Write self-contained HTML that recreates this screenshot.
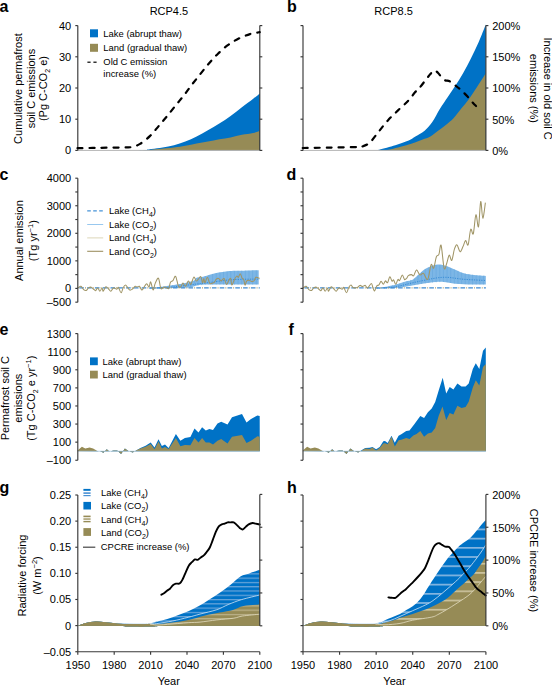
<!DOCTYPE html>
<html><head><meta charset="utf-8"><style>
html,body{margin:0;padding:0;background:#fff;}
body{width:552px;height:685px;overflow:hidden;}
svg{display:block;}
</style></head><body>
<svg width="552" height="685" viewBox="0 0 552 685" font-family='"Liberation Sans", sans-serif' fill="#000">
<rect width="552" height="685" fill="#fff"/>
<text x="-0.6" y="11.6" font-size="16" text-anchor="start" font-weight="bold" >a</text>
<text x="287" y="11.6" font-size="16" text-anchor="start" font-weight="bold" >b</text>
<text x="-0.4" y="179.6" font-size="16" text-anchor="start" font-weight="bold" >c</text>
<text x="286.6" y="179.6" font-size="16" text-anchor="start" font-weight="bold" >d</text>
<text x="-0.6" y="334.5" font-size="16" text-anchor="start" font-weight="bold" >e</text>
<text x="288.4" y="334.5" font-size="16" text-anchor="start" font-weight="bold" >f</text>
<text x="-0.5" y="492.9" font-size="16" text-anchor="start" font-weight="bold" >g</text>
<text x="287" y="493.4" font-size="16" text-anchor="start" font-weight="bold" >h</text>
<text x="168.9" y="15.4" font-size="11" text-anchor="middle" font-weight="normal" >RCP4.5</text>
<text x="393.6" y="15.4" font-size="11" text-anchor="middle" font-weight="normal" >RCP8.5</text>
<path d="M77.8,150.4 C87.83,150.4 125.75,150.62 138,150.4 C150.25,150.18 147.2,149.58 151.3,149.1 C155.4,148.62 158.82,148.15 162.6,147.5 C166.38,146.85 170.22,146.18 174,145.2 C177.78,144.22 181.53,143.03 185.3,141.6 C189.07,140.17 192.83,138.48 196.6,136.6 C200.37,134.72 204.12,132.48 207.9,130.3 C211.68,128.12 215.52,125.88 219.3,123.5 C223.08,121.12 226.83,118.72 230.6,116 C234.37,113.28 238.13,110.07 241.9,107.2 C245.67,104.33 250.22,101.1 253.2,98.8 C256.18,96.5 258.7,94.3 259.8,93.4 L259.8,150.4 C229.47,150.4 108.13,150.4 77.8,150.4 Z" fill="#0072c6" />
<path d="M77.8,150.4 C88.17,150.4 127.97,150.47 140,150.4 C152.03,150.33 146.98,150.22 150,150 C153.02,149.78 154.1,149.52 158.1,149.1 C162.1,148.68 169.47,148.07 174,147.5 C178.53,146.93 181.53,146.38 185.3,145.7 C189.07,145.02 192.83,144.08 196.6,143.4 C200.37,142.72 204.12,142.28 207.9,141.6 C211.68,140.92 215.52,139.98 219.3,139.3 C223.08,138.62 226.83,138.25 230.6,137.5 C234.37,136.75 238.13,135.57 241.9,134.8 C245.67,134.03 250.22,133.55 253.2,132.9 C256.18,132.25 258.7,131.23 259.8,130.9 L259.8,150.4 C229.47,150.4 108.13,150.4 77.8,150.4 Z" fill="#968b56" />
<line x1="77.8" y1="150.4" x2="259.8" y2="150.4" stroke="#b4b4b4" stroke-width="1" />
<line x1="77.8" y1="25.6" x2="77.8" y2="150.4" stroke="#383838" stroke-width="1.15" />
<line x1="75.3" y1="150.4" x2="77.8" y2="150.4" stroke="#383838" stroke-width="1.15" />
<text x="71.2" y="154.3" font-size="11" text-anchor="end" font-weight="normal" >0</text>
<line x1="75.3" y1="119.2" x2="77.8" y2="119.2" stroke="#383838" stroke-width="1.15" />
<text x="71.2" y="123.1" font-size="11" text-anchor="end" font-weight="normal" >10</text>
<line x1="75.3" y1="88" x2="77.8" y2="88" stroke="#383838" stroke-width="1.15" />
<text x="71.2" y="91.9" font-size="11" text-anchor="end" font-weight="normal" >20</text>
<line x1="75.3" y1="56.8" x2="77.8" y2="56.8" stroke="#383838" stroke-width="1.15" />
<text x="71.2" y="60.7" font-size="11" text-anchor="end" font-weight="normal" >30</text>
<line x1="75.3" y1="25.6" x2="77.8" y2="25.6" stroke="#383838" stroke-width="1.15" />
<text x="71.2" y="29.5" font-size="11" text-anchor="end" font-weight="normal" >40</text>
<line x1="259.8" y1="25.6" x2="259.8" y2="150.4" stroke="#383838" stroke-width="1.15" />
<line x1="259.8" y1="150.4" x2="262.3" y2="150.4" stroke="#383838" stroke-width="1.15" />
<line x1="259.8" y1="119.2" x2="262.3" y2="119.2" stroke="#383838" stroke-width="1.15" />
<line x1="259.8" y1="88" x2="262.3" y2="88" stroke="#383838" stroke-width="1.15" />
<line x1="259.8" y1="56.8" x2="262.3" y2="56.8" stroke="#383838" stroke-width="1.15" />
<line x1="259.8" y1="25.6" x2="262.3" y2="25.6" stroke="#383838" stroke-width="1.15" />
<path d="M77.5,148.2 C81.25,148.13 92.08,147.93 100,147.8 C107.92,147.67 119.67,147.55 125,147.4 C130.33,147.25 129.48,147.48 132,146.9 C134.52,146.32 137.08,145.73 140.1,143.9 C143.12,142.07 146.97,138.92 150.1,135.9 C153.23,132.88 156.1,129.05 158.9,125.8 C161.7,122.55 164.22,119.65 166.9,116.4 C169.58,113.15 172.2,109.77 175,106.3 C177.8,102.83 180.95,99.12 183.7,95.6 C186.45,92.08 188.72,88.82 191.5,85.2 C194.28,81.58 197.5,77.52 200.4,73.9 C203.3,70.28 205.97,66.87 208.9,63.5 C211.83,60.13 214.85,56.75 218,53.7 C221.15,50.65 224.42,47.7 227.8,45.2 C231.18,42.7 234.6,40.55 238.3,38.7 C242,36.85 246.43,35.18 250,34.1 C253.57,33.02 258.08,32.52 259.7,32.2" fill="none" stroke="#000" stroke-width="2.2" stroke-dasharray="5 7" stroke-linecap="round"/>
<path d="M302.7,150.4 C314.25,150.4 359.25,150.52 372,150.4 C384.75,150.28 375.32,150.55 379.2,149.7 C383.08,148.85 390.38,146.82 395.3,145.3 C400.22,143.78 405.42,142.02 408.7,140.6 C411.98,139.18 412.35,138.43 415,136.8 C417.65,135.17 421.72,133.25 424.6,130.8 C427.48,128.35 429.72,125.8 432.3,122.1 C434.88,118.4 437.52,112.77 440.1,108.6 C442.68,104.43 445.23,100.95 447.8,97.1 C450.37,93.25 452.93,89.52 455.5,85.5 C458.07,81.48 460.63,77.5 463.2,73 C465.77,68.5 468.33,63.63 470.9,58.5 C473.47,53.37 476.12,47.87 478.6,42.2 C481.08,36.53 484.6,27.45 485.8,24.5 L485.9,150.4 C455.42,150.4 333.48,150.4 303,150.4 Z" fill="#0072c6" />
<path d="M302.7,150.4 C315.25,150.4 363.68,150.52 378,150.4 C392.32,150.28 385.27,150.17 388.6,149.7 C391.93,149.23 394.65,148.45 398,147.6 C401.35,146.75 405.87,145.47 408.7,144.6 C411.53,143.73 412.67,143.25 415,142.4 C417.33,141.55 420.13,140.47 422.7,139.5 C425.27,138.53 427.83,138.05 430.4,136.6 C432.97,135.15 435.53,132.73 438.1,130.8 C440.67,128.87 443.23,127.08 445.8,125 C448.37,122.92 450.92,121.03 453.5,118.3 C456.08,115.57 458.72,111.82 461.3,108.6 C463.88,105.38 466.43,102.52 469,99 C471.57,95.48 473.9,91.8 476.7,87.5 C479.5,83.2 484.28,75.58 485.8,73.2 L485.9,150.4 C455.42,150.4 333.48,150.4 303,150.4 Z" fill="#968b56" />
<line x1="303" y1="150.4" x2="485.9" y2="150.4" stroke="#b4b4b4" stroke-width="1" />
<line x1="303" y1="25.6" x2="303" y2="150.4" stroke="#383838" stroke-width="1.15" />
<line x1="300.5" y1="150.4" x2="303" y2="150.4" stroke="#383838" stroke-width="1.15" />
<line x1="300.5" y1="119.2" x2="303" y2="119.2" stroke="#383838" stroke-width="1.15" />
<line x1="300.5" y1="88" x2="303" y2="88" stroke="#383838" stroke-width="1.15" />
<line x1="300.5" y1="56.8" x2="303" y2="56.8" stroke="#383838" stroke-width="1.15" />
<line x1="300.5" y1="25.6" x2="303" y2="25.6" stroke="#383838" stroke-width="1.15" />
<line x1="485.9" y1="25.6" x2="485.9" y2="150.4" stroke="#383838" stroke-width="1.15" />
<line x1="485.9" y1="150.4" x2="488.4" y2="150.4" stroke="#383838" stroke-width="1.15" />
<text x="492.2" y="154.7" font-size="11" text-anchor="start" font-weight="normal" >0%</text>
<line x1="485.9" y1="119.2" x2="488.4" y2="119.2" stroke="#383838" stroke-width="1.15" />
<text x="492.2" y="123.5" font-size="11" text-anchor="start" font-weight="normal" >50%</text>
<line x1="485.9" y1="88" x2="488.4" y2="88" stroke="#383838" stroke-width="1.15" />
<text x="492.2" y="92.3" font-size="11" text-anchor="start" font-weight="normal" >100%</text>
<line x1="485.9" y1="56.8" x2="488.4" y2="56.8" stroke="#383838" stroke-width="1.15" />
<text x="492.2" y="61.1" font-size="11" text-anchor="start" font-weight="normal" >150%</text>
<line x1="485.9" y1="25.6" x2="488.4" y2="25.6" stroke="#383838" stroke-width="1.15" />
<text x="492.2" y="29.9" font-size="11" text-anchor="start" font-weight="normal" >200%</text>
<path d="M302.7,148 C307.25,147.93 320.83,147.77 330,147.6 C339.17,147.43 352.2,147.23 357.7,147 C363.2,146.77 360.98,146.93 363,146.2 C365.02,145.47 367.22,144.98 369.8,142.6 C372.38,140.22 375.48,135.6 378.5,131.9 C381.52,128.2 384.65,123.98 387.9,120.4 C391.15,116.82 394.65,113.63 398,110.4 C401.35,107.17 405.17,104.02 408,101 C410.83,97.98 413.03,94.55 415,92.3 C416.97,90.05 417.87,89.75 419.8,87.5 C421.73,85.25 424.83,81.05 426.6,78.8 C428.37,76.55 429.12,75.38 430.4,74 C431.68,72.62 433.02,70.67 434.3,70.5 C435.58,70.33 436.5,71.47 438.1,73 C439.7,74.53 441.97,78.32 443.9,79.7 C445.83,81.08 447.77,80.33 449.7,81.3 C451.63,82.27 453.57,84 455.5,85.5 C457.43,87 459.22,88.37 461.3,90.3 C463.38,92.23 465.77,94.68 468,97.1 C470.23,99.52 472.45,102.58 474.7,104.8 C476.95,107.02 480.37,109.47 481.5,110.4" fill="none" stroke="#000" stroke-width="2.2" stroke-dasharray="5 7" stroke-linecap="round"/>
<rect x="90" y="29.3" width="8" height="8" fill="#0072c6"/>
<rect x="90" y="43.8" width="8" height="8" fill="#968b56"/>
<text x="103.3" y="37.2" font-size="9.45" text-anchor="start" font-weight="normal" >Lake (abrupt thaw)</text>
<text x="103.3" y="51.3" font-size="9.45" text-anchor="start" font-weight="normal" >Land (gradual thaw)</text>
<line x1="87.4" y1="62.2" x2="90.6" y2="62.2" stroke="#000" stroke-width="1.2" />
<line x1="93.4" y1="62.2" x2="96.6" y2="62.2" stroke="#000" stroke-width="1.2" />
<text x="103.3" y="65.4" font-size="9.45" text-anchor="start" font-weight="normal" >Old C emission</text>
<text x="103.3" y="76.6" font-size="9.45" text-anchor="start" font-weight="normal" >increase (%)</text>
<text transform="translate(21.7 88.6) rotate(-90)" font-size="11" text-anchor="middle">Cumulative permafrost</text>
<text transform="translate(34.5 88.6) rotate(-90)" font-size="11" text-anchor="middle">soil C emissions</text>
<text transform="translate(47.4 88.6) rotate(-90)" font-size="11" text-anchor="middle">(Pg C-CO<tspan font-size="7" baseline-shift="-2.6">2</tspan> e)</text>
<text transform="translate(543.9 88.6) rotate(90)" font-size="11" text-anchor="middle">Increase in old soil C</text>
<text transform="translate(530.2 88.4) rotate(90)" font-size="11" text-anchor="middle">emissions (%)</text>
<path d="M149.5,288 C150.9,287.88 154.5,287.72 157.9,287.3 C161.3,286.88 165.92,286.1 169.9,285.5 C173.88,284.9 177.82,284.5 181.8,283.7 C185.78,282.9 191.43,281.67 193.8,280.7 C196.17,279.73 194.43,278.57 196,277.9 C197.57,277.23 201.2,277.13 203.2,276.7 C205.2,276.27 206.02,275.88 208,275.3 C209.98,274.72 212.72,273.75 215.1,273.2 C217.48,272.65 219.9,272.35 222.3,272 C224.7,271.65 226.92,271.3 229.5,271.1 C232.08,270.9 234.42,270.9 237.8,270.8 C241.18,270.7 246.32,270.6 249.8,270.5 C253.28,270.4 257.22,270.25 258.7,270.2 L258.7,284.5 C250.25,284.5 218.45,284.3 208,284.5 C197.55,284.7 199,285.23 196,285.7 C193,286.17 194.33,286.88 190,287.3 C185.67,287.72 176.75,288.02 170,288.2 C163.25,288.38 152.92,288.37 149.5,288.4 Z" fill="#7cb6e6" />
<line x1="150.7" y1="287.9" x2="150.7" y2="288.39" stroke="#62a4dd" stroke-width="0.5" />
<line x1="154.34" y1="287.6" x2="154.34" y2="288.35" stroke="#62a4dd" stroke-width="0.5" />
<line x1="157.98" y1="287.29" x2="157.98" y2="288.32" stroke="#62a4dd" stroke-width="0.5" />
<line x1="161.62" y1="286.74" x2="161.62" y2="288.28" stroke="#62a4dd" stroke-width="0.5" />
<line x1="165.26" y1="286.2" x2="165.26" y2="288.25" stroke="#62a4dd" stroke-width="0.5" />
<line x1="168.9" y1="285.65" x2="168.9" y2="288.21" stroke="#62a4dd" stroke-width="0.5" />
<line x1="172.54" y1="285.1" x2="172.54" y2="288.09" stroke="#62a4dd" stroke-width="0.5" />
<line x1="176.18" y1="284.55" x2="176.18" y2="287.92" stroke="#62a4dd" stroke-width="0.5" />
<line x1="179.82" y1="284" x2="179.82" y2="287.76" stroke="#62a4dd" stroke-width="0.5" />
<line x1="183.46" y1="283.29" x2="183.46" y2="287.59" stroke="#62a4dd" stroke-width="0.5" />
<line x1="187.1" y1="282.38" x2="187.1" y2="287.43" stroke="#62a4dd" stroke-width="0.5" />
<line x1="190.74" y1="281.47" x2="190.74" y2="287.1" stroke="#62a4dd" stroke-width="0.5" />
<line x1="194.38" y1="279.96" x2="194.38" y2="286.13" stroke="#62a4dd" stroke-width="0.5" />
<line x1="198.02" y1="277.56" x2="198.02" y2="285.5" stroke="#62a4dd" stroke-width="0.5" />
<line x1="201.66" y1="276.96" x2="201.66" y2="285.13" stroke="#62a4dd" stroke-width="0.5" />
<line x1="205.3" y1="276.09" x2="205.3" y2="284.77" stroke="#62a4dd" stroke-width="0.5" />
<line x1="208.94" y1="275.02" x2="208.94" y2="284.5" stroke="#62a4dd" stroke-width="0.5" />
<line x1="212.58" y1="273.95" x2="212.58" y2="284.5" stroke="#62a4dd" stroke-width="0.5" />
<line x1="216.22" y1="273.01" x2="216.22" y2="284.5" stroke="#62a4dd" stroke-width="0.5" />
<line x1="219.86" y1="272.41" x2="219.86" y2="284.5" stroke="#62a4dd" stroke-width="0.5" />
<line x1="223.5" y1="271.85" x2="223.5" y2="284.5" stroke="#62a4dd" stroke-width="0.5" />
<line x1="227.14" y1="271.4" x2="227.14" y2="284.5" stroke="#62a4dd" stroke-width="0.5" />
<line x1="230.78" y1="271.05" x2="230.78" y2="284.5" stroke="#62a4dd" stroke-width="0.5" />
<line x1="234.42" y1="270.92" x2="234.42" y2="284.5" stroke="#62a4dd" stroke-width="0.5" />
<line x1="238.06" y1="270.79" x2="238.06" y2="284.5" stroke="#62a4dd" stroke-width="0.5" />
<line x1="241.7" y1="270.7" x2="241.7" y2="284.5" stroke="#62a4dd" stroke-width="0.5" />
<line x1="245.34" y1="270.61" x2="245.34" y2="284.5" stroke="#62a4dd" stroke-width="0.5" />
<line x1="248.98" y1="270.52" x2="248.98" y2="284.5" stroke="#62a4dd" stroke-width="0.5" />
<line x1="252.62" y1="270.4" x2="252.62" y2="284.5" stroke="#62a4dd" stroke-width="0.5" />
<line x1="256.26" y1="270.28" x2="256.26" y2="284.5" stroke="#62a4dd" stroke-width="0.5" />
<path d="M149.5,288.2 C152.92,288.03 163.25,287.77 170,287.2 C176.75,286.63 183.67,285.55 190,284.8 C196.33,284.05 201.02,283.55 208,282.7 C214.98,281.85 223.28,280.3 231.9,279.7 C240.52,279.1 255.07,279.2 259.7,279.1" fill="none" stroke="#2f86d3" stroke-width="0.9" stroke-dasharray="1.2 1.2"/>
<line x1="79.3" y1="287.9" x2="259.8" y2="287.9" stroke="#3f8ad0" stroke-width="1.4" stroke-dasharray="4.6 3.2"/>
<line x1="79.3" y1="287.9" x2="259.8" y2="287.9" stroke="#a89a68" stroke-width="1.2" stroke-dasharray="0.9 6.9" stroke-dashoffset="-5.7"/>
<path d="M77.5,288.4 C77.62,288.32 77.63,288.25 78.2,287.9 C78.77,287.55 80,286.02 80.9,286.3 C81.8,286.58 82.7,288.92 83.6,289.6 C84.5,290.28 85.48,290.68 86.3,290.4 C87.12,290.12 87.68,288.43 88.5,287.9 C89.32,287.37 90.38,287.02 91.2,287.2 C92.02,287.38 92.67,288.42 93.4,289 C94.13,289.58 94.88,290.88 95.6,290.7 C96.32,290.52 96.98,287.82 97.7,287.9 C98.42,287.98 99.17,291.2 99.9,291.2 C100.63,291.2 101.55,287.9 102.1,287.9 C102.65,287.9 102.57,291.38 103.2,291.2 C103.83,291.02 105,287.17 105.9,286.8 C106.8,286.43 107.78,288.27 108.6,289 C109.42,289.73 109.98,291.38 110.8,291.2 C111.62,291.02 112.5,288.22 113.5,287.9 C114.5,287.58 115.98,289.38 116.8,289.3 C117.62,289.22 117.68,286.82 118.4,287.4 C119.12,287.98 120.28,292.8 121.1,292.8 C121.92,292.8 122.57,288.7 123.3,287.4 C124.03,286.1 124.78,285 125.5,285 C126.22,285 126.88,286.55 127.6,287.4 C128.32,288.25 128.98,289.83 129.8,290.1 C130.62,290.37 131.6,289.63 132.5,289 C133.4,288.37 134.45,286.63 135.2,286.3 C135.95,285.97 136.3,287 137,287 C137.7,287 138.6,285.82 139.4,286.3 C140.2,286.78 141.1,289.63 141.8,289.9 C142.5,290.17 142.8,288.93 143.6,287.9 C144.4,286.87 145.7,283.85 146.6,283.7 C147.5,283.55 148.32,287.3 149,287 C149.68,286.7 150.02,281.42 150.7,281.9 C151.38,282.38 152.33,289.7 153.1,289.9 C153.87,290.1 154.4,285.03 155.3,283.1 C156.2,281.17 157.57,277.4 158.5,278.3 C159.43,279.2 160,287.05 160.9,288.5 C161.8,289.95 162.9,287.1 163.9,287 C164.9,286.9 166.1,287.65 166.9,287.9 C167.7,288.15 168.1,289.43 168.7,288.5 C169.3,287.57 169.8,283.6 170.5,282.3 C171.2,281 172.05,281.7 172.9,280.7 C173.75,279.7 174.72,275.5 175.6,276.3 C176.48,277.1 177.37,283.72 178.2,285.5 C179.03,287.28 179.8,287.4 180.6,287 C181.4,286.6 182.2,283.22 183,283.1 C183.8,282.98 184.5,286.63 185.4,286.3 C186.3,285.97 187.5,281.43 188.4,281.1 C189.3,280.77 189.9,284.97 190.8,284.3 C191.7,283.63 192.9,277.65 193.8,277.1 C194.7,276.55 195.43,280.67 196.2,281 C196.97,281.33 197.63,279.82 198.4,279.1 C199.17,278.38 200.1,276.1 200.8,276.7 C201.5,277.3 202.1,282.4 202.6,282.7 C203.1,283 203.4,278.5 203.8,278.5 C204.2,278.5 204.4,282.9 205,282.7 C205.6,282.5 206.62,277.2 207.4,277.3 C208.18,277.4 208.92,282.3 209.7,283.3 C210.48,284.3 211.3,283.5 212.1,283.3 C212.9,283.1 213.8,282.8 214.5,282.1 C215.2,281.4 215.6,279.7 216.3,279.1 C217,278.5 217.9,278.2 218.7,278.5 C219.5,278.8 220.2,280.9 221.1,280.9 C222,280.9 223.2,277.9 224.1,278.5 C225,279.1 225.7,284.2 226.5,284.5 C227.3,284.8 228.2,281.3 228.9,280.3 C229.6,279.3 230.2,277.7 230.7,278.5 C231.2,279.3 231.3,284.9 231.9,285.1 C232.5,285.3 233.5,281.2 234.3,279.7 C235.1,278.2 236.02,276.5 236.7,276.1 C237.38,275.7 237.82,277.7 238.4,277.3 C238.98,276.9 239.6,273.6 240.2,273.7 C240.8,273.8 241.4,276.9 242,277.9 C242.6,278.9 243.3,278.5 243.8,279.7 C244.3,280.9 244.5,284.9 245,285.1 C245.5,285.3 246.1,281.7 246.8,280.9 C247.5,280.1 248.4,280.2 249.2,280.3 C250,280.4 250.8,281.4 251.6,281.5 C252.4,281.6 253.3,281.6 254,280.9 C254.7,280.2 255.1,277.8 255.8,277.3 C256.5,276.8 257.55,277.75 258.2,277.9 C258.85,278.05 259.45,278.15 259.7,278.2" fill="none" stroke="#a09566" stroke-width="1.05" stroke-linejoin="round"/>
<path d="M376.7,288 C378.52,287.75 383.97,287.2 387.6,286.5 C391.23,285.8 395.23,284.7 398.5,283.8 C401.77,282.9 404.67,281.92 407.2,281.1 C409.73,280.28 410.72,280.92 413.7,278.9 C416.68,276.88 421.33,271.37 425.1,269 C428.87,266.63 433,265.27 436.3,264.7 C439.6,264.13 442.03,264.88 444.9,265.6 C447.77,266.32 450.33,267.72 453.5,269 C456.67,270.28 460.45,272.3 463.9,273.3 C467.35,274.3 470.55,274.57 474.2,275 C477.85,275.43 483.87,275.75 485.8,275.9 L485.8,284.5 C483.57,284.5 477.5,284.63 472.4,284.5 C467.3,284.37 460.07,284.13 455.2,283.7 C450.33,283.27 447.5,282.05 443.2,281.9 C438.9,281.75 434.57,282.22 429.4,282.8 C424.23,283.38 417.93,284.53 412.2,285.4 C406.47,286.27 400.92,287.5 395,288 C389.08,288.5 379.75,288.33 376.7,288.4 Z" fill="#7cb6e6" />
<line x1="377.9" y1="287.83" x2="377.9" y2="288.37" stroke="#62a4dd" stroke-width="0.5" />
<line x1="381.54" y1="287.33" x2="381.54" y2="288.29" stroke="#62a4dd" stroke-width="0.5" />
<line x1="385.18" y1="286.83" x2="385.18" y2="288.21" stroke="#62a4dd" stroke-width="0.5" />
<line x1="388.82" y1="286.2" x2="388.82" y2="288.14" stroke="#62a4dd" stroke-width="0.5" />
<line x1="392.46" y1="285.3" x2="392.46" y2="288.06" stroke="#62a4dd" stroke-width="0.5" />
<line x1="396.1" y1="284.39" x2="396.1" y2="287.83" stroke="#62a4dd" stroke-width="0.5" />
<line x1="399.74" y1="283.42" x2="399.74" y2="287.28" stroke="#62a4dd" stroke-width="0.5" />
<line x1="403.38" y1="282.29" x2="403.38" y2="286.73" stroke="#62a4dd" stroke-width="0.5" />
<line x1="407.02" y1="281.16" x2="407.02" y2="286.18" stroke="#62a4dd" stroke-width="0.5" />
<line x1="410.66" y1="279.93" x2="410.66" y2="285.63" stroke="#62a4dd" stroke-width="0.5" />
<line x1="414.3" y1="278.38" x2="414.3" y2="285.08" stroke="#62a4dd" stroke-width="0.5" />
<line x1="417.94" y1="275.22" x2="417.94" y2="284.53" stroke="#62a4dd" stroke-width="0.5" />
<line x1="421.58" y1="272.06" x2="421.58" y2="283.98" stroke="#62a4dd" stroke-width="0.5" />
<line x1="425.22" y1="268.95" x2="425.22" y2="283.43" stroke="#62a4dd" stroke-width="0.5" />
<line x1="428.86" y1="267.56" x2="428.86" y2="282.88" stroke="#62a4dd" stroke-width="0.5" />
<line x1="432.5" y1="266.16" x2="432.5" y2="282.6" stroke="#62a4dd" stroke-width="0.5" />
<line x1="436.14" y1="264.76" x2="436.14" y2="282.36" stroke="#62a4dd" stroke-width="0.5" />
<line x1="439.78" y1="265.06" x2="439.78" y2="282.12" stroke="#62a4dd" stroke-width="0.5" />
<line x1="443.42" y1="265.45" x2="443.42" y2="281.93" stroke="#62a4dd" stroke-width="0.5" />
<line x1="447.06" y1="266.45" x2="447.06" y2="282.48" stroke="#62a4dd" stroke-width="0.5" />
<line x1="450.7" y1="267.89" x2="450.7" y2="283.02" stroke="#62a4dd" stroke-width="0.5" />
<line x1="454.34" y1="269.35" x2="454.34" y2="283.57" stroke="#62a4dd" stroke-width="0.5" />
<line x1="457.98" y1="270.85" x2="457.98" y2="283.83" stroke="#62a4dd" stroke-width="0.5" />
<line x1="461.62" y1="272.36" x2="461.62" y2="284" stroke="#62a4dd" stroke-width="0.5" />
<line x1="465.26" y1="273.52" x2="465.26" y2="284.17" stroke="#62a4dd" stroke-width="0.5" />
<line x1="468.9" y1="274.13" x2="468.9" y2="284.34" stroke="#62a4dd" stroke-width="0.5" />
<line x1="472.54" y1="274.73" x2="472.54" y2="284.5" stroke="#62a4dd" stroke-width="0.5" />
<line x1="476.18" y1="275.15" x2="476.18" y2="284.5" stroke="#62a4dd" stroke-width="0.5" />
<line x1="479.82" y1="275.44" x2="479.82" y2="284.5" stroke="#62a4dd" stroke-width="0.5" />
<line x1="483.46" y1="275.72" x2="483.46" y2="284.5" stroke="#62a4dd" stroke-width="0.5" />
<path d="M376.7,288.2 C379.75,287.97 387.65,288 395,286.8 C402.35,285.6 412.77,282.58 420.8,281 C428.83,279.42 436.02,277.58 443.2,277.3 C450.38,277.02 456.8,278.77 463.9,279.3 C471,279.83 482.15,280.3 485.8,280.5" fill="none" stroke="#2f86d3" stroke-width="0.9" stroke-dasharray="1.2 1.2"/>
<line x1="304.5" y1="287.9" x2="485.9" y2="287.9" stroke="#3f8ad0" stroke-width="1.4" stroke-dasharray="4.6 3.2"/>
<line x1="304.5" y1="287.9" x2="485.9" y2="287.9" stroke="#a89a68" stroke-width="1.2" stroke-dasharray="0.9 6.9" stroke-dashoffset="-5.7"/>
<path d="M302.7,288.4 C302.82,288.32 302.83,288.25 303.4,287.9 C303.97,287.55 305.21,286.02 306.12,286.3 C307.02,286.58 307.92,288.92 308.83,289.6 C309.73,290.28 310.72,290.68 311.54,290.4 C312.36,290.12 312.93,288.43 313.75,287.9 C314.57,287.37 315.65,287.02 316.47,287.2 C317.29,287.38 317.94,288.42 318.68,289 C319.41,289.58 320.17,290.88 320.89,290.7 C321.61,290.52 322.28,287.82 323,287.9 C323.72,287.98 324.47,291.2 325.21,291.2 C325.95,291.2 326.87,287.9 327.42,287.9 C327.97,287.9 327.89,291.38 328.53,291.2 C329.16,291.02 330.33,287.17 331.24,286.8 C332.14,286.43 333.13,288.27 333.95,289 C334.77,289.73 335.34,291.38 336.16,291.2 C336.98,291.02 337.87,288.22 338.88,287.9 C339.88,287.58 341.37,289.38 342.19,289.3 C343.01,289.22 343.08,286.82 343.8,287.4 C344.52,287.98 345.69,292.8 346.51,292.8 C347.33,292.8 347.99,288.7 348.73,287.4 C349.46,286.1 350.22,285 350.94,285 C351.66,285 352,286.97 353.05,287.4 C354.09,287.83 356.06,287.93 357.2,287.6 C358.34,287.27 359,285.58 359.9,285.4 C360.8,285.22 361.7,286.5 362.6,286.5 C363.5,286.5 364.48,285.12 365.3,285.4 C366.12,285.68 366.5,288.52 367.5,288.2 C368.5,287.88 370.4,283.6 371.3,283.5 C372.2,283.4 372.35,286.37 372.9,287.6 C373.45,288.83 373.97,291.17 374.6,290.9 C375.23,290.63 375.98,287 376.7,286 C377.42,285 378.17,285.68 378.9,284.9 C379.63,284.12 380.37,281.4 381.1,281.3 C381.83,281.2 382.58,284.37 383.3,284.3 C384.02,284.23 384.68,281.17 385.4,280.9 C386.12,280.63 386.87,283.4 387.6,282.7 C388.33,282 389.07,276.97 389.8,276.7 C390.53,276.43 391.37,280.55 392,281.1 C392.63,281.65 392.97,279.47 393.6,280 C394.23,280.53 395.08,284.38 395.8,284.3 C396.52,284.22 397.27,280.13 397.9,279.5 C398.53,278.87 398.87,281.23 399.6,280.5 C400.33,279.77 401.48,275.27 402.3,275.1 C403.12,274.93 403.78,278.95 404.5,279.5 C405.22,280.05 405.97,279.03 406.6,278.4 C407.23,277.77 407.48,276.33 408.3,275.7 C409.12,275.07 410.6,274.6 411.5,274.6 C412.4,274.6 412.87,276.48 413.7,275.7 C414.53,274.92 415.45,270.02 416.5,269.9 C417.55,269.78 418.85,274.43 420,275 C421.15,275.57 422.12,272.58 423.4,273.3 C424.68,274.02 426.42,280.73 427.7,279.3 C428.98,277.87 430.1,266.57 431.1,264.7 C432.1,262.83 432.83,269.38 433.7,268.1 C434.57,266.82 435.43,259.28 436.3,257 C437.17,254.72 438.1,256.35 438.9,254.4 C439.7,252.45 440.23,243.02 441.1,245.3 C441.97,247.58 443.18,265.02 444.1,268.1 C445.02,271.18 445.75,265.95 446.6,263.8 C447.45,261.65 448.33,255.77 449.2,255.2 C450.07,254.63 450.93,261.4 451.8,260.4 C452.67,259.4 453.53,251.78 454.4,249.2 C455.27,246.62 456.05,244.47 457,244.9 C457.95,245.33 459.1,251.52 460.1,251.8 C461.1,252.08 462.08,248.47 463,246.6 C463.92,244.73 464.75,240.88 465.6,240.6 C466.45,240.32 467.25,246.77 468.1,244.9 C468.95,243.03 469.83,231.27 470.7,229.4 C471.57,227.53 472.43,236.13 473.3,233.7 C474.17,231.27 475.03,215.95 475.9,214.8 C476.77,213.65 477.7,229.02 478.5,226.8 C479.3,224.58 479.98,202.93 480.7,201.5 C481.42,200.07 482.02,218 482.8,218.2 C483.58,218.4 484.97,205.28 485.4,202.7" fill="none" stroke="#a09566" stroke-width="1.05" stroke-linejoin="round"/>
<line x1="87.2" y1="210.9" x2="103.2" y2="210.9" stroke="#4793d7" stroke-width="1.4" stroke-dasharray="3.6 2.4"/>
<line x1="87.2" y1="224.5" x2="103.2" y2="224.5" stroke="#98c8ef" stroke-width="1.0" />
<line x1="87.2" y1="237.9" x2="103.2" y2="237.9" stroke="#dcd6b8" stroke-width="1.0" />
<line x1="87.2" y1="251.3" x2="103.2" y2="251.3" stroke="#9d9162" stroke-width="1.1" />
<text x="109" y="214" font-size="9.45" text-anchor="start" font-weight="normal" >Lake (CH<tspan font-size="7" baseline-shift="-2.6">4</tspan>)</text>
<text x="109" y="227.6" font-size="9.45" text-anchor="start" font-weight="normal" >Lake (CO<tspan font-size="7" baseline-shift="-2.6">2</tspan>)</text>
<text x="109" y="241.2" font-size="9.45" text-anchor="start" font-weight="normal" >Land (CH<tspan font-size="7" baseline-shift="-2.6">4</tspan>)</text>
<text x="109" y="254.8" font-size="9.45" text-anchor="start" font-weight="normal" >Land (CO<tspan font-size="7" baseline-shift="-2.6">2</tspan>)</text>
<path d="M77.5,451.2 L97.4,451 L100.8,451.5 L103.4,452.7 L106.8,449.3 L109.4,451.5 L113.7,450.5 L117.2,450.6 L121.1,453.9 L124.9,448.4 L128.4,451 L132.7,452.4 L137,450.1 L140.4,448 L145.6,445.7 L150.7,442.6 L154.5,447.4 L158.5,439.3 L161.9,445.9 L165,444.4 L168.6,448 L175.9,434.1 L180.4,440.8 L184.9,438 L190.4,437.1 L194.5,428.6 L198.5,432.6 L202.1,427.2 L205.8,430.4 L209.4,429 L213,429.9 L217.5,423.6 L221.2,421.7 L227.5,424.5 L232,417.2 L242,414.1 L246.5,422.6 L251,419 L257.4,415.4 L259.7,416 L259.8,451.2 L77.8,451.2 Z" fill="#0072c6" />
<path d="M77.5,451.2 L77.6,450.6 L81.9,446.7 L85.3,448.4 L89.6,447.5 L93.1,448.4 L97.4,451 L100.8,451.5 L103.4,452.7 L106.8,449.3 L109.4,451.5 L113.7,450.5 L117.2,450.6 L121.1,453.9 L124.9,448.4 L128.4,451 L132.7,452.4 L137,450.1 L140.4,448.4 L145.6,446.7 L150.7,444.1 L154.5,449.3 L158.5,441.5 L161.9,448.4 L165,447.1 L168.6,448.9 L175.9,438 L180.4,446.2 L184.9,444.9 L190.4,445.3 L194.5,438 L198.5,442.6 L202.1,438 L205.8,442.6 L209.4,442.6 L213,444.4 L217.5,440.8 L221.2,439 L227.5,443.5 L232,436.8 L242,435 L246.5,443.1 L251,440.8 L257.4,436.2 L259.7,436.8 L259.8,451.2 L77.8,451.2 Z" fill="#968b56" />
<line x1="77.8" y1="451.2" x2="259.8" y2="451.2" stroke="#9cc3e3" stroke-width="0.6" />
<path d="M302.7,451.2 L322.7,451 L326.11,451.5 L328.73,452.7 L332.14,449.3 L334.76,451.5 L339.08,450.5 L342.59,450.6 L346.51,453.9 L350.33,448.4 L353.85,451 L358.17,452.4 L360.7,450.8 L365.2,448 L369.7,447.8 L372.5,447.1 L376.1,449.3 L379.7,447.1 L383.3,441.3 L385,441.1 L387.7,443 L391.5,435.7 L394.8,442.7 L398.6,435.7 L401.3,434.3 L406.2,431.1 L409.5,430.4 L414.3,424.2 L420.3,415.9 L424.1,418 L427.9,412.3 L431.7,408.5 L435.2,402 L439,389.5 L442.7,377.8 L446.2,393.6 L449.7,387 L453.4,389.5 L457.4,383.4 L461.5,386.4 L465.6,386.4 L468.7,383.4 L472.8,369 L475.8,363.3 L479.3,369 L483,350.7 L485.8,347.6 L485.9,451.2 L303,451.2 Z" fill="#0072c6" />
<path d="M302.7,451.2 L302.8,450.6 L307.12,446.7 L310.54,448.4 L314.86,447.5 L318.38,448.4 L322.7,451 L326.11,451.5 L328.73,452.7 L332.14,449.3 L334.76,451.5 L339.08,450.5 L342.59,450.6 L346.51,453.9 L350.33,448.4 L353.85,451 L358.17,452.4 L360.7,451.3 L365.2,448.6 L369.7,448.9 L372.5,447.5 L376.1,450.4 L379.7,448 L383.3,443.5 L385,443.3 L387.7,444.3 L391.5,436.7 L394.8,446.5 L398.6,440.2 L401.3,439.8 L406.2,438 L409.5,438.9 L413.3,435.4 L416.5,434 L420.3,431.1 L424.1,436.7 L427.9,433.5 L431.7,432.4 L435.2,428 L438.8,415.5 L442.5,406.5 L446.2,420.1 L449.7,413 L453.4,414.4 L457.4,405.8 L461.5,407.9 L465.6,406.9 L468.7,401.7 L472.8,387.4 L475.8,380.3 L479.3,385.4 L483,367 L485.8,363.9 L485.9,451.2 L303,451.2 Z" fill="#968b56" />
<line x1="303" y1="451.2" x2="485.9" y2="451.2" stroke="#9cc3e3" stroke-width="0.6" />
<rect x="90.0" y="357.4" width="7.8" height="7.8" fill="#0072c6"/>
<rect x="90.0" y="370.7" width="7.8" height="7.8" fill="#968b56"/>
<text x="102.6" y="365" font-size="9.45" text-anchor="start" font-weight="normal" >Lake (abrupt thaw)</text>
<text x="102.6" y="378.3" font-size="9.45" text-anchor="start" font-weight="normal" >Land (gradual thaw)</text>
<defs>
<pattern id="gLakeCH4" patternUnits="userSpaceOnUse" x="0" y="-0.22" width="20" height="4.28"><rect width="20" height="4.28" fill="#0072c6"/><rect y="0" width="20" height="1.2" fill="#6aa5da"/></pattern>
<pattern id="gLandCH4" patternUnits="userSpaceOnUse" x="0" y="1.84" width="20" height="4.28"><rect width="20" height="4.28" fill="#968b56"/><rect y="0" width="20" height="1.2" fill="#bdb48c"/></pattern>
<pattern id="hLakeCH4" patternUnits="userSpaceOnUse" x="0" y="4.15" width="20" height="9.2"><rect width="20" height="9.2" fill="#0072c6"/><rect y="0" width="20" height="1.7" fill="#86b6e0"/></pattern>
<pattern id="hLandCH4" patternUnits="userSpaceOnUse" x="0" y="1.65" width="20" height="9.2"><rect width="20" height="9.2" fill="#968b56"/><rect y="0" width="20" height="1.7" fill="#cbc39f"/></pattern>
</defs>
<path d="M77.8,625.6 C78.05,625.53 77.97,625.63 79.3,625.2 C80.63,624.77 83.08,623.6 85.8,623 C88.52,622.4 92.35,621.73 95.6,621.6 C98.85,621.47 101.77,621.9 105.3,622.2 C108.83,622.5 112.72,623.08 116.8,623.4 C120.88,623.72 125.18,623.97 129.8,624.1 C134.42,624.23 141.13,624.23 144.5,624.2 C147.87,624.17 147.95,624.32 150,623.9 C152.05,623.48 153.92,622.5 156.8,621.7 C159.68,620.9 163.8,620.18 167.3,619.1 C170.8,618.02 174.3,616.52 177.8,615.2 C181.3,613.88 184.8,612.73 188.3,611.2 C191.8,609.67 195.3,607.97 198.8,606 C202.3,604.03 205.8,601.6 209.3,599.4 C212.8,597.2 216.3,595.2 219.8,592.8 C223.3,590.4 226.8,587.75 230.3,585 C233.8,582.25 237.73,578.18 240.8,576.3 C243.87,574.42 245.55,574.78 248.7,573.7 C251.85,572.62 257.87,570.45 259.7,569.8 L259.8,625.9 C244.13,625.9 183.63,625.78 165.8,625.9 C147.97,626.02 158.8,626.48 152.8,626.6 C146.8,626.72 135.63,626.72 129.8,626.6 C123.97,626.48 126.47,626.03 117.8,625.9 C109.13,625.77 84.47,625.82 77.8,625.8 Z" fill="url(#gLakeCH4)" />
<path d="M77.8,625.6 C78.05,625.53 77.97,625.63 79.3,625.2 C80.63,624.77 83.08,623.6 85.8,623 C88.52,622.4 92.35,621.73 95.6,621.6 C98.85,621.47 101.77,621.9 105.3,622.2 C108.83,622.5 112.72,623.08 116.8,623.4 C120.88,623.72 125.18,623.97 129.8,624.1 C134.42,624.23 141.13,624.23 144.5,624.2 C147.87,624.17 147.95,624 150,623.9 C152.05,623.8 153.05,624.08 156.8,623.6 C160.55,623.12 167.25,622.05 172.5,621 C177.75,619.95 183.72,618.45 188.3,617.3 C192.88,616.15 195.25,615.37 200,614.1 C204.75,612.83 212.12,611.28 216.8,609.7 C221.48,608.12 223.97,606.28 228.1,604.6 C232.23,602.92 236.32,601.2 241.6,599.6 C246.88,598 256.77,595.77 259.8,595 L259.8,625.9 C244.13,625.9 183.63,625.78 165.8,625.9 C147.97,626.02 158.8,626.48 152.8,626.6 C146.8,626.72 135.63,626.72 129.8,626.6 C123.97,626.48 126.47,626.03 117.8,625.9 C109.13,625.77 84.47,625.82 77.8,625.8 Z" fill="#0072c6" />
<path d="M116.8,623.4 C118.97,623.52 125.18,623.97 129.8,624.1 C134.42,624.23 141.13,624.23 144.5,624.2 C147.87,624.17 147.95,624.32 150,623.9 C152.05,623.48 155.67,622.07 156.8,621.7" fill="none" stroke="#7fb6e3" stroke-width="0.8"/>
<path d="M77.8,625.6 C78.05,625.53 77.97,625.63 79.3,625.2 C80.63,624.77 83.08,623.6 85.8,623 C88.52,622.4 92.35,621.73 95.6,621.6 C98.85,621.47 101.77,621.9 105.3,622.2 C108.83,622.5 112.72,623.08 116.8,623.4 C120.88,623.72 125.18,623.97 129.8,624.1 C134.42,624.23 141.13,624.23 144.5,624.2 C147.87,624.17 147.95,623.88 150,623.9 C152.05,623.92 153.05,624.53 156.8,624.3 C160.55,624.07 167.25,623.23 172.5,622.5 C177.75,621.77 183.03,621.03 188.3,619.9 C193.57,618.77 198.85,616.93 204.1,615.7 C209.35,614.47 215,613.47 219.8,612.5 C224.6,611.53 228.95,610.98 232.9,609.9 C236.85,608.82 239.03,606.9 243.5,606 C247.97,605.1 257,604.75 259.7,604.5 L259.8,625.9 C244.13,625.9 183.63,625.78 165.8,625.9 C147.97,626.02 158.8,626.48 152.8,626.6 C146.8,626.72 135.63,626.72 129.8,626.6 C123.97,626.48 126.47,626.03 117.8,625.9 C109.13,625.77 84.47,625.82 77.8,625.8 Z" fill="url(#gLandCH4)" />
<path d="M77.8,625.6 C78.05,625.53 77.97,625.63 79.3,625.2 C80.63,624.77 83.08,623.6 85.8,623 C88.52,622.4 92.35,621.73 95.6,621.6 C98.85,621.47 101.77,621.9 105.3,622.2 C108.83,622.5 112.72,623.08 116.8,623.4 C120.88,623.72 125.18,623.97 129.8,624.1 C134.42,624.23 141.13,624.23 144.5,624.2 C147.87,624.17 147.95,623.77 150,623.9 C152.05,624.03 153.92,624.92 156.8,625 C159.68,625.08 162.05,624.78 167.3,624.4 C172.55,624.02 182.85,623.08 188.3,622.7 C193.75,622.32 195.25,622.57 200,622.1 C204.75,621.63 211.18,620.55 216.8,619.9 C222.42,619.25 229.4,618.85 233.7,618.2 C238,617.55 238.25,616.67 242.6,616 C246.95,615.33 256.93,614.5 259.8,614.2 L259.8,625.9 C244.13,625.9 183.63,625.78 165.8,625.9 C147.97,626.02 158.8,626.48 152.8,626.6 C146.8,626.72 135.63,626.72 129.8,626.6 C123.97,626.48 126.47,626.03 117.8,625.9 C109.13,625.77 84.47,625.82 77.8,625.8 Z" fill="#968b56" />
<path d="M150,623.9 C151.13,623.85 153.05,624.08 156.8,623.6 C160.55,623.12 167.25,622.05 172.5,621 C177.75,619.95 183.72,618.45 188.3,617.3 C192.88,616.15 195.25,615.37 200,614.1 C204.75,612.83 212.12,611.28 216.8,609.7 C221.48,608.12 223.97,606.28 228.1,604.6 C232.23,602.92 236.32,601.2 241.6,599.6 C246.88,598 256.77,595.77 259.8,595" fill="none" stroke="#cfe3f5" stroke-width="0.8"/>
<path d="M150,623.9 C151.13,624.08 153.92,624.92 156.8,625 C159.68,625.08 162.05,624.78 167.3,624.4 C172.55,624.02 182.85,623.08 188.3,622.7 C193.75,622.32 195.25,622.57 200,622.1 C204.75,621.63 211.18,620.55 216.8,619.9 C222.42,619.25 229.4,618.85 233.7,618.2 C238,617.55 238.25,616.67 242.6,616 C246.95,615.33 256.93,614.5 259.8,614.2" fill="none" stroke="#e2dcc0" stroke-width="0.8"/>
<path d="M161.4,594.7 C161.83,594.47 163.07,593.97 164,593.3 C164.93,592.63 166,591.47 167,590.7 C168,589.93 169.02,589.6 170,588.7 C170.98,587.8 171.92,586.13 172.9,585.3 C173.88,584.47 174.73,584.03 175.9,583.7 C177.07,583.37 178.73,584.12 179.9,583.3 C181.07,582.48 181.9,580.72 182.9,578.8 C183.9,576.88 184.9,574.03 185.9,571.8 C186.9,569.57 187.9,567 188.9,565.4 C189.9,563.8 190.9,563.2 191.9,562.2 C192.9,561.2 193.92,559.8 194.9,559.4 C195.88,559 196.82,560.13 197.8,559.8 C198.78,559.47 199.8,558.13 200.8,557.4 C201.8,556.67 202.8,556.33 203.8,555.4 C204.8,554.47 205.8,553.12 206.8,551.8 C207.8,550.48 208.8,549.48 209.8,547.5 C210.8,545.52 211.8,542.5 212.8,539.9 C213.8,537.3 214.8,534.17 215.8,531.9 C216.8,529.63 217.8,527.57 218.8,526.3 C219.8,525.03 220.82,524.75 221.8,524.3 C222.78,523.85 223.72,523.92 224.7,523.6 C225.68,523.28 226.7,522.6 227.7,522.4 C228.7,522.2 229.7,522.4 230.7,522.4 C231.7,522.4 232.7,521.98 233.7,522.4 C234.7,522.82 235.7,523.98 236.7,524.9 C237.7,525.82 238.7,527.13 239.7,527.9 C240.7,528.67 241.7,529.67 242.7,529.5 C243.7,529.33 244.7,527.77 245.7,526.9 C246.7,526.03 247.55,524.95 248.7,524.3 C249.85,523.65 251.45,523.12 252.6,523 C253.75,522.88 254.42,523.35 255.6,523.6 C256.78,523.85 259.02,524.35 259.7,524.5" fill="none" stroke="#000" stroke-width="1.9" stroke-linejoin="round" stroke-linecap="round"/>
<path d="M303,625.6 C303.25,625.53 303.17,625.63 304.51,625.2 C305.85,624.77 308.31,623.6 311.04,623 C313.77,622.4 317.62,621.73 320.89,621.6 C324.15,621.47 327.09,621.9 330.64,622.2 C334.19,622.5 338.09,623.08 342.19,623.4 C346.3,623.72 350.62,623.97 355.26,624.1 C359.9,624.23 366.65,624.23 370.03,624.2 C373.41,624.17 373.76,624.22 375.56,623.9 C377.35,623.58 378.58,623.2 380.8,622.3 C383.02,621.4 385.7,619.9 388.9,618.5 C392.1,617.1 397.1,615.3 400,613.9 C402.9,612.5 404.18,611.37 406.3,610.1 C408.42,608.83 410.58,607.88 412.7,606.3 C414.82,604.72 416.88,603.03 419,600.6 C421.12,598.17 423.28,594.87 425.4,591.7 C427.52,588.53 429.77,584.63 431.7,581.6 C433.63,578.57 435.27,576.08 437,573.5 C438.73,570.92 440.4,568.53 442.1,566.1 C443.8,563.67 445.5,561.03 447.2,558.9 C448.9,556.77 450.42,555.33 452.3,553.3 C454.18,551.27 456.45,548.57 458.5,546.7 C460.55,544.83 462.57,543.63 464.6,542.1 C466.63,540.57 468.65,539.47 470.7,537.5 C472.75,535.53 475.18,532.35 476.9,530.3 C478.62,528.25 479.52,526.95 481,525.2 C482.48,523.45 485,520.7 485.8,519.8 L485.9,625.9 C470.08,625.9 408.98,625.78 391,625.9 C373.02,626.02 384,626.48 378,626.6 C372,626.72 360.83,626.72 355,626.6 C349.17,626.48 351.67,626.03 343,625.9 C334.33,625.77 309.67,625.82 303,625.8 Z" fill="url(#hLakeCH4)" />
<path d="M303,625.6 C303.25,625.53 303.17,625.63 304.51,625.2 C305.85,624.77 308.31,623.6 311.04,623 C313.77,622.4 317.62,621.73 320.89,621.6 C324.15,621.47 327.09,621.9 330.64,622.2 C334.19,622.5 338.09,623.08 342.19,623.4 C346.3,623.72 350.62,623.97 355.26,624.1 C359.9,624.23 366.65,624.23 370.03,624.2 C373.41,624.17 372.41,624.43 375.56,623.9 C378.7,623.37 384.83,622.25 388.9,621 C392.97,619.75 396.03,618.12 400,616.4 C403.97,614.68 408.47,612.6 412.7,610.7 C416.93,608.8 422.02,606.68 425.4,605 C428.78,603.32 430.27,602.5 433,600.6 C435.73,598.7 438.85,596.03 441.8,593.6 C444.75,591.17 447.73,588.63 450.7,586 C453.67,583.37 457.22,580.13 459.6,577.8 C461.98,575.47 463.32,573.78 465,572 C466.68,570.22 467.72,569.45 469.7,567.1 C471.68,564.75 474.85,560.62 476.9,557.9 C478.95,555.18 480.52,552.98 482,550.8 C483.48,548.62 485.17,545.8 485.8,544.8 L485.9,625.9 C470.08,625.9 408.98,625.78 391,625.9 C373.02,626.02 384,626.48 378,626.6 C372,626.72 360.83,626.72 355,626.6 C349.17,626.48 351.67,626.03 343,625.9 C334.33,625.77 309.67,625.82 303,625.8 Z" fill="#0072c6" />
<path d="M342.19,623.4 C344.37,623.52 350.62,623.97 355.26,624.1 C359.9,624.23 366.65,624.23 370.03,624.2 C373.41,624.17 373.76,624.22 375.56,623.9 C377.35,623.58 379.93,622.57 380.8,622.3" fill="none" stroke="#7fb6e3" stroke-width="0.8"/>
<path d="M303,625.6 C303.25,625.53 303.17,625.63 304.51,625.2 C305.85,624.77 308.31,623.6 311.04,623 C313.77,622.4 317.62,621.73 320.89,621.6 C324.15,621.47 327.09,621.9 330.64,622.2 C334.19,622.5 338.09,623.08 342.19,623.4 C346.3,623.72 350.62,623.97 355.26,624.1 C359.9,624.23 366.65,624.23 370.03,624.2 C373.41,624.17 373.76,623.98 375.56,623.9 C377.35,623.82 377.68,624.35 380.8,623.7 C383.92,623.05 391.1,621 394.3,620 C397.5,619 396.93,618.72 400,617.7 C403.07,616.68 408.47,615.27 412.7,613.9 C416.93,612.53 421.18,611.2 425.4,609.5 C429.62,607.8 434.2,605.72 438,603.7 C441.8,601.68 445.02,599.82 448.2,597.4 C451.38,594.98 454.35,591.63 457.1,589.2 C459.85,586.77 462.55,584.7 464.7,582.8 C466.85,580.9 468.48,579.22 470,577.8 C471.52,576.38 472.32,576.08 473.8,574.3 C475.28,572.52 477.37,569.32 478.9,567.1 C480.43,564.88 481.85,562.85 483,561 C484.15,559.15 485.33,556.83 485.8,556 L485.9,625.9 C470.08,625.9 408.98,625.78 391,625.9 C373.02,626.02 384,626.48 378,626.6 C372,626.72 360.83,626.72 355,626.6 C349.17,626.48 351.67,626.03 343,625.9 C334.33,625.77 309.67,625.82 303,625.8 Z" fill="url(#hLandCH4)" />
<path d="M303,625.6 C303.25,625.53 303.17,625.63 304.51,625.2 C305.85,624.77 308.31,623.6 311.04,623 C313.77,622.4 317.62,621.73 320.89,621.6 C324.15,621.47 327.09,621.9 330.64,622.2 C334.19,622.5 338.09,623.08 342.19,623.4 C346.3,623.72 350.62,623.97 355.26,624.1 C359.9,624.23 366.65,624.23 370.03,624.2 C373.41,624.17 373.06,623.8 375.56,623.9 C378.05,624 380.93,624.88 385,624.8 C389.07,624.72 395.38,624.17 400,623.4 C404.62,622.63 407.42,621.25 412.7,620.2 C417.98,619.15 427.48,618.05 431.7,617.1 C435.92,616.15 435.47,615.77 438,614.5 C440.53,613.23 443.72,611.4 446.9,609.5 C450.08,607.6 453.25,605.65 457.1,603.1 C460.95,600.55 466.52,597.13 470,594.2 C473.48,591.27 475.37,588.48 478,585.5 C480.63,582.52 484.5,577.83 485.8,576.3 L485.9,625.9 C470.08,625.9 408.98,625.78 391,625.9 C373.02,626.02 384,626.48 378,626.6 C372,626.72 360.83,626.72 355,626.6 C349.17,626.48 351.67,626.03 343,625.9 C334.33,625.77 309.67,625.82 303,625.8 Z" fill="#968b56" />
<path d="M375.56,623.9 C377.78,623.42 384.83,622.25 388.9,621 C392.97,619.75 396.03,618.12 400,616.4 C403.97,614.68 408.47,612.6 412.7,610.7 C416.93,608.8 422.02,606.68 425.4,605 C428.78,603.32 430.27,602.5 433,600.6 C435.73,598.7 438.85,596.03 441.8,593.6 C444.75,591.17 447.73,588.63 450.7,586 C453.67,583.37 457.22,580.13 459.6,577.8 C461.98,575.47 463.32,573.78 465,572 C466.68,570.22 467.72,569.45 469.7,567.1 C471.68,564.75 474.85,560.62 476.9,557.9 C478.95,555.18 480.52,552.98 482,550.8 C483.48,548.62 485.17,545.8 485.8,544.8" fill="none" stroke="#cfe3f5" stroke-width="0.8"/>
<path d="M375.56,623.9 C377.13,624.05 380.93,624.88 385,624.8 C389.07,624.72 395.38,624.17 400,623.4 C404.62,622.63 407.42,621.25 412.7,620.2 C417.98,619.15 427.48,618.05 431.7,617.1 C435.92,616.15 435.47,615.77 438,614.5 C440.53,613.23 443.72,611.4 446.9,609.5 C450.08,607.6 453.25,605.65 457.1,603.1 C460.95,600.55 466.52,597.13 470,594.2 C473.48,591.27 475.37,588.48 478,585.5 C480.63,582.52 484.5,577.83 485.8,576.3" fill="none" stroke="#e2dcc0" stroke-width="0.8"/>
<path d="M388.4,597.4 C388.95,597.47 390.52,597.73 391.7,597.8 C392.88,597.87 394.4,598.18 395.5,597.8 C396.6,597.42 397.2,596.45 398.3,595.5 C399.4,594.55 400.83,593.15 402.1,592.1 C403.37,591.05 404.63,590.32 405.9,589.2 C407.17,588.08 408.43,586.67 409.7,585.4 C410.97,584.13 412.07,583.08 413.5,581.6 C414.93,580.12 416.87,578.08 418.3,576.5 C419.73,574.92 421,573.47 422.1,572.1 C423.2,570.73 423.95,570.05 424.9,568.3 C425.85,566.55 426.83,563.98 427.8,561.6 C428.77,559.22 429.75,556.37 430.7,554 C431.65,551.63 432.55,549.05 433.5,547.4 C434.45,545.75 435.45,544.8 436.4,544.1 C437.35,543.4 438.25,543.07 439.2,543.2 C440.15,543.33 441.1,544.32 442.1,544.9 C443.1,545.48 444.08,546.37 445.2,546.7 C446.32,547.03 447.78,546.4 448.8,546.9 C449.82,547.4 450.37,548.55 451.3,549.7 C452.23,550.85 453.37,552.27 454.4,553.8 C455.43,555.33 456.48,557.2 457.5,558.9 C458.52,560.6 459.32,561.95 460.5,564 C461.68,566.05 463.23,568.98 464.6,571.2 C465.97,573.42 467.33,575.33 468.7,577.3 C470.07,579.27 471.53,581.23 472.8,583 C474.07,584.77 475.08,586.55 476.3,587.9 C477.52,589.25 478.83,590.08 480.1,591.1 C481.37,592.12 482.95,593.27 483.9,594 C484.85,594.73 485.48,595.25 485.8,595.5" fill="none" stroke="#000" stroke-width="1.9" stroke-linejoin="round" stroke-linecap="round"/>
<rect x="83.4" y="488.9" width="7.2" height="1.9" fill="#0072c6"/>
<rect x="83.4" y="492.3" width="7.2" height="1.6" fill="#4a92d4"/>
<rect x="83.4" y="495.0" width="7.2" height="1.2" fill="#4a92d4"/>
<rect x="83.4" y="501.9" width="7.6" height="7.6" fill="#0072c6"/>
<rect x="83.4" y="515.6" width="7.2" height="1.6" fill="#968b56"/>
<rect x="83.4" y="518.3" width="7.2" height="1.5" fill="#a59b6c"/>
<rect x="83.4" y="520.9" width="7.2" height="1.4" fill="#968b56"/>
<rect x="83.4" y="528.1" width="7.6" height="7.8" fill="#968b56"/>
<line x1="83" y1="547.2" x2="95.3" y2="547.2" stroke="#444" stroke-width="1.2" />
<text x="101" y="495.6" font-size="9.45" text-anchor="start" font-weight="normal" >Lake (CH<tspan font-size="7" baseline-shift="-2.6">4</tspan>)</text>
<text x="101" y="509.2" font-size="9.45" text-anchor="start" font-weight="normal" >Lake (CO<tspan font-size="7" baseline-shift="-2.6">2</tspan>)</text>
<text x="101" y="522.7" font-size="9.45" text-anchor="start" font-weight="normal" >Land (CH<tspan font-size="7" baseline-shift="-2.6">4</tspan>)</text>
<text x="101" y="536.2" font-size="9.45" text-anchor="start" font-weight="normal" >Land (CO<tspan font-size="7" baseline-shift="-2.6">2</tspan>)</text>
<text x="100.8" y="549.6" font-size="9.45" text-anchor="start" font-weight="normal" >CPCRE increase (%)</text>
<line x1="77.8" y1="178.2" x2="77.8" y2="302.17" stroke="#383838" stroke-width="1.15" />
<line x1="75.3" y1="302.17" x2="77.8" y2="302.17" stroke="#383838" stroke-width="1.15" />
<text x="71.2" y="306.07" font-size="11" text-anchor="end" font-weight="normal" >–500</text>
<line x1="75.3" y1="288.4" x2="77.8" y2="288.4" stroke="#383838" stroke-width="1.15" />
<text x="71.2" y="292.3" font-size="11" text-anchor="end" font-weight="normal" >0</text>
<line x1="75.3" y1="274.62" x2="77.8" y2="274.62" stroke="#383838" stroke-width="1.15" />
<text x="71.2" y="278.52" font-size="11" text-anchor="end" font-weight="normal" ></text>
<line x1="75.3" y1="260.85" x2="77.8" y2="260.85" stroke="#383838" stroke-width="1.15" />
<text x="71.2" y="264.75" font-size="11" text-anchor="end" font-weight="normal" >1000</text>
<line x1="75.3" y1="247.07" x2="77.8" y2="247.07" stroke="#383838" stroke-width="1.15" />
<text x="71.2" y="250.97" font-size="11" text-anchor="end" font-weight="normal" ></text>
<line x1="75.3" y1="233.3" x2="77.8" y2="233.3" stroke="#383838" stroke-width="1.15" />
<text x="71.2" y="237.2" font-size="11" text-anchor="end" font-weight="normal" >2000</text>
<line x1="75.3" y1="219.52" x2="77.8" y2="219.52" stroke="#383838" stroke-width="1.15" />
<text x="71.2" y="223.42" font-size="11" text-anchor="end" font-weight="normal" ></text>
<line x1="75.3" y1="205.75" x2="77.8" y2="205.75" stroke="#383838" stroke-width="1.15" />
<text x="71.2" y="209.65" font-size="11" text-anchor="end" font-weight="normal" >3000</text>
<line x1="75.3" y1="191.97" x2="77.8" y2="191.97" stroke="#383838" stroke-width="1.15" />
<text x="71.2" y="195.88" font-size="11" text-anchor="end" font-weight="normal" ></text>
<line x1="75.3" y1="178.2" x2="77.8" y2="178.2" stroke="#383838" stroke-width="1.15" />
<text x="71.2" y="182.1" font-size="11" text-anchor="end" font-weight="normal" >4000</text>
<line x1="303" y1="178.2" x2="303" y2="302.17" stroke="#383838" stroke-width="1.15" />
<line x1="300.5" y1="302.17" x2="303" y2="302.17" stroke="#383838" stroke-width="1.15" />
<line x1="300.5" y1="288.4" x2="303" y2="288.4" stroke="#383838" stroke-width="1.15" />
<line x1="300.5" y1="274.62" x2="303" y2="274.62" stroke="#383838" stroke-width="1.15" />
<line x1="300.5" y1="260.85" x2="303" y2="260.85" stroke="#383838" stroke-width="1.15" />
<line x1="300.5" y1="247.07" x2="303" y2="247.07" stroke="#383838" stroke-width="1.15" />
<line x1="300.5" y1="233.3" x2="303" y2="233.3" stroke="#383838" stroke-width="1.15" />
<line x1="300.5" y1="219.52" x2="303" y2="219.52" stroke="#383838" stroke-width="1.15" />
<line x1="300.5" y1="205.75" x2="303" y2="205.75" stroke="#383838" stroke-width="1.15" />
<line x1="300.5" y1="191.97" x2="303" y2="191.97" stroke="#383838" stroke-width="1.15" />
<line x1="300.5" y1="178.2" x2="303" y2="178.2" stroke="#383838" stroke-width="1.15" />
<line x1="77.8" y1="333.6" x2="77.8" y2="460.25" stroke="#383838" stroke-width="1.15" />
<line x1="75.3" y1="460.25" x2="77.8" y2="460.25" stroke="#383838" stroke-width="1.15" />
<text x="71.2" y="464.15" font-size="11" text-anchor="end" font-weight="normal" >–100</text>
<line x1="75.3" y1="442.15" x2="77.8" y2="442.15" stroke="#383838" stroke-width="1.15" />
<text x="71.2" y="446.05" font-size="11" text-anchor="end" font-weight="normal" >100</text>
<line x1="75.3" y1="424.06" x2="77.8" y2="424.06" stroke="#383838" stroke-width="1.15" />
<text x="71.2" y="427.96" font-size="11" text-anchor="end" font-weight="normal" >300</text>
<line x1="75.3" y1="405.97" x2="77.8" y2="405.97" stroke="#383838" stroke-width="1.15" />
<text x="71.2" y="409.87" font-size="11" text-anchor="end" font-weight="normal" >500</text>
<line x1="75.3" y1="387.88" x2="77.8" y2="387.88" stroke="#383838" stroke-width="1.15" />
<text x="71.2" y="391.78" font-size="11" text-anchor="end" font-weight="normal" >700</text>
<line x1="75.3" y1="369.78" x2="77.8" y2="369.78" stroke="#383838" stroke-width="1.15" />
<text x="71.2" y="373.68" font-size="11" text-anchor="end" font-weight="normal" >900</text>
<line x1="75.3" y1="351.69" x2="77.8" y2="351.69" stroke="#383838" stroke-width="1.15" />
<text x="71.2" y="355.59" font-size="11" text-anchor="end" font-weight="normal" >1100</text>
<line x1="75.3" y1="333.6" x2="77.8" y2="333.6" stroke="#383838" stroke-width="1.15" />
<text x="71.2" y="337.5" font-size="11" text-anchor="end" font-weight="normal" >1300</text>
<line x1="303" y1="333.6" x2="303" y2="460.25" stroke="#383838" stroke-width="1.15" />
<line x1="300.5" y1="460.25" x2="303" y2="460.25" stroke="#383838" stroke-width="1.15" />
<line x1="300.5" y1="442.15" x2="303" y2="442.15" stroke="#383838" stroke-width="1.15" />
<line x1="300.5" y1="424.06" x2="303" y2="424.06" stroke="#383838" stroke-width="1.15" />
<line x1="300.5" y1="405.97" x2="303" y2="405.97" stroke="#383838" stroke-width="1.15" />
<line x1="300.5" y1="387.88" x2="303" y2="387.88" stroke="#383838" stroke-width="1.15" />
<line x1="300.5" y1="369.78" x2="303" y2="369.78" stroke="#383838" stroke-width="1.15" />
<line x1="300.5" y1="351.69" x2="303" y2="351.69" stroke="#383838" stroke-width="1.15" />
<line x1="300.5" y1="333.6" x2="303" y2="333.6" stroke="#383838" stroke-width="1.15" />
<line x1="77.8" y1="495" x2="77.8" y2="651.72" stroke="#383838" stroke-width="1.15" />
<line x1="75.3" y1="651.72" x2="77.8" y2="651.72" stroke="#383838" stroke-width="1.15" />
<text x="71.2" y="655.62" font-size="11" text-anchor="end" font-weight="normal" >–0.05</text>
<line x1="75.3" y1="625.6" x2="77.8" y2="625.6" stroke="#383838" stroke-width="1.15" />
<text x="71.2" y="629.5" font-size="11" text-anchor="end" font-weight="normal" >0</text>
<line x1="75.3" y1="599.48" x2="77.8" y2="599.48" stroke="#383838" stroke-width="1.15" />
<text x="71.2" y="603.38" font-size="11" text-anchor="end" font-weight="normal" >0.05</text>
<line x1="75.3" y1="573.36" x2="77.8" y2="573.36" stroke="#383838" stroke-width="1.15" />
<text x="71.2" y="577.26" font-size="11" text-anchor="end" font-weight="normal" >0.10</text>
<line x1="75.3" y1="547.24" x2="77.8" y2="547.24" stroke="#383838" stroke-width="1.15" />
<text x="71.2" y="551.14" font-size="11" text-anchor="end" font-weight="normal" >0.15</text>
<line x1="75.3" y1="521.12" x2="77.8" y2="521.12" stroke="#383838" stroke-width="1.15" />
<text x="71.2" y="525.02" font-size="11" text-anchor="end" font-weight="normal" >0.20</text>
<line x1="75.3" y1="495" x2="77.8" y2="495" stroke="#383838" stroke-width="1.15" />
<text x="71.2" y="498.9" font-size="11" text-anchor="end" font-weight="normal" >0.25</text>
<line x1="259.8" y1="494.4" x2="259.8" y2="625.8" stroke="#383838" stroke-width="1.15" />
<line x1="259.8" y1="625.8" x2="262.3" y2="625.8" stroke="#383838" stroke-width="1.15" />
<line x1="259.8" y1="592.95" x2="262.3" y2="592.95" stroke="#383838" stroke-width="1.15" />
<line x1="259.8" y1="560.1" x2="262.3" y2="560.1" stroke="#383838" stroke-width="1.15" />
<line x1="259.8" y1="527.25" x2="262.3" y2="527.25" stroke="#383838" stroke-width="1.15" />
<line x1="259.8" y1="494.4" x2="262.3" y2="494.4" stroke="#383838" stroke-width="1.15" />
<line x1="77.8" y1="651.72" x2="259.8" y2="651.72" stroke="#383838" stroke-width="1.15" />
<line x1="77.8" y1="651.72" x2="77.8" y2="654.72" stroke="#383838" stroke-width="1.15" />
<text x="77.8" y="668.92" font-size="11" text-anchor="middle" font-weight="normal" >1950</text>
<line x1="114.2" y1="651.72" x2="114.2" y2="654.72" stroke="#383838" stroke-width="1.15" />
<text x="114.2" y="668.92" font-size="11" text-anchor="middle" font-weight="normal" >1980</text>
<line x1="150.6" y1="651.72" x2="150.6" y2="654.72" stroke="#383838" stroke-width="1.15" />
<text x="150.6" y="668.92" font-size="11" text-anchor="middle" font-weight="normal" >2010</text>
<line x1="187" y1="651.72" x2="187" y2="654.72" stroke="#383838" stroke-width="1.15" />
<text x="187" y="668.92" font-size="11" text-anchor="middle" font-weight="normal" >2040</text>
<line x1="223.4" y1="651.72" x2="223.4" y2="654.72" stroke="#383838" stroke-width="1.15" />
<text x="223.4" y="668.92" font-size="11" text-anchor="middle" font-weight="normal" >2070</text>
<line x1="259.8" y1="651.72" x2="259.8" y2="654.72" stroke="#383838" stroke-width="1.15" />
<text x="259.8" y="668.92" font-size="11" text-anchor="middle" font-weight="normal" >2100</text>
<text x="168.8" y="684.5" font-size="11" text-anchor="middle" font-weight="normal" >Year</text>
<line x1="303" y1="495" x2="303" y2="651.72" stroke="#383838" stroke-width="1.15" />
<line x1="300.5" y1="651.72" x2="303" y2="651.72" stroke="#383838" stroke-width="1.15" />
<line x1="300.5" y1="625.6" x2="303" y2="625.6" stroke="#383838" stroke-width="1.15" />
<line x1="300.5" y1="599.48" x2="303" y2="599.48" stroke="#383838" stroke-width="1.15" />
<line x1="300.5" y1="573.36" x2="303" y2="573.36" stroke="#383838" stroke-width="1.15" />
<line x1="300.5" y1="547.24" x2="303" y2="547.24" stroke="#383838" stroke-width="1.15" />
<line x1="300.5" y1="521.12" x2="303" y2="521.12" stroke="#383838" stroke-width="1.15" />
<line x1="300.5" y1="495" x2="303" y2="495" stroke="#383838" stroke-width="1.15" />
<line x1="485.9" y1="494.4" x2="485.9" y2="625.8" stroke="#383838" stroke-width="1.15" />
<line x1="485.9" y1="625.8" x2="488.4" y2="625.8" stroke="#383838" stroke-width="1.15" />
<text x="492.2" y="630.1" font-size="11" text-anchor="start" font-weight="normal" >0%</text>
<line x1="485.9" y1="592.95" x2="488.4" y2="592.95" stroke="#383838" stroke-width="1.15" />
<text x="492.2" y="597.25" font-size="11" text-anchor="start" font-weight="normal" >50%</text>
<line x1="485.9" y1="560.1" x2="488.4" y2="560.1" stroke="#383838" stroke-width="1.15" />
<text x="492.2" y="564.4" font-size="11" text-anchor="start" font-weight="normal" >100%</text>
<line x1="485.9" y1="527.25" x2="488.4" y2="527.25" stroke="#383838" stroke-width="1.15" />
<text x="492.2" y="531.55" font-size="11" text-anchor="start" font-weight="normal" >150%</text>
<line x1="485.9" y1="494.4" x2="488.4" y2="494.4" stroke="#383838" stroke-width="1.15" />
<text x="492.2" y="498.7" font-size="11" text-anchor="start" font-weight="normal" >200%</text>
<line x1="303" y1="651.72" x2="485.9" y2="651.72" stroke="#383838" stroke-width="1.15" />
<line x1="303" y1="651.72" x2="303" y2="654.72" stroke="#383838" stroke-width="1.15" />
<text x="303" y="668.92" font-size="11" text-anchor="middle" font-weight="normal" >1950</text>
<line x1="339.58" y1="651.72" x2="339.58" y2="654.72" stroke="#383838" stroke-width="1.15" />
<text x="339.58" y="668.92" font-size="11" text-anchor="middle" font-weight="normal" >1980</text>
<line x1="376.16" y1="651.72" x2="376.16" y2="654.72" stroke="#383838" stroke-width="1.15" />
<text x="376.16" y="668.92" font-size="11" text-anchor="middle" font-weight="normal" >2010</text>
<line x1="412.74" y1="651.72" x2="412.74" y2="654.72" stroke="#383838" stroke-width="1.15" />
<text x="412.74" y="668.92" font-size="11" text-anchor="middle" font-weight="normal" >2040</text>
<line x1="449.32" y1="651.72" x2="449.32" y2="654.72" stroke="#383838" stroke-width="1.15" />
<text x="449.32" y="668.92" font-size="11" text-anchor="middle" font-weight="normal" >2070</text>
<line x1="485.9" y1="651.72" x2="485.9" y2="654.72" stroke="#383838" stroke-width="1.15" />
<text x="485.9" y="668.92" font-size="11" text-anchor="middle" font-weight="normal" >2100</text>
<text x="394.45" y="684.5" font-size="11" text-anchor="middle" font-weight="normal" >Year</text>
<text transform="translate(22.8 240.6) rotate(-90)" font-size="11" text-anchor="middle">Annual emission</text>
<text transform="translate(37 240.6) rotate(-90)" font-size="11" text-anchor="middle">(Tg yr<tspan font-size="7.6" baseline-shift="4.3">−1</tspan>)</text>
<text transform="translate(9.1 398.2) rotate(-90)" font-size="11" text-anchor="middle">Permafrost soil C</text>
<text transform="translate(22 398.2) rotate(-90)" font-size="11" text-anchor="middle">emissions</text>
<text transform="translate(35 398.2) rotate(-90)" font-size="11" text-anchor="middle">(Tg C-CO<tspan font-size="7" baseline-shift="-2.6">2</tspan> e yr<tspan font-size="7.6" baseline-shift="4.3">−1</tspan>)</text>
<text transform="translate(26.3 575.5) rotate(-90)" font-size="11" text-anchor="middle">Radiative forcing</text>
<text transform="translate(41 575.5) rotate(-90)" font-size="11" text-anchor="middle">(W m<tspan font-size="7.6" baseline-shift="4.3">−2</tspan>)</text>
<text transform="translate(530 560.5) rotate(90)" font-size="11" text-anchor="middle">CPCRE increase (%)</text>
</svg>
</body></html>
